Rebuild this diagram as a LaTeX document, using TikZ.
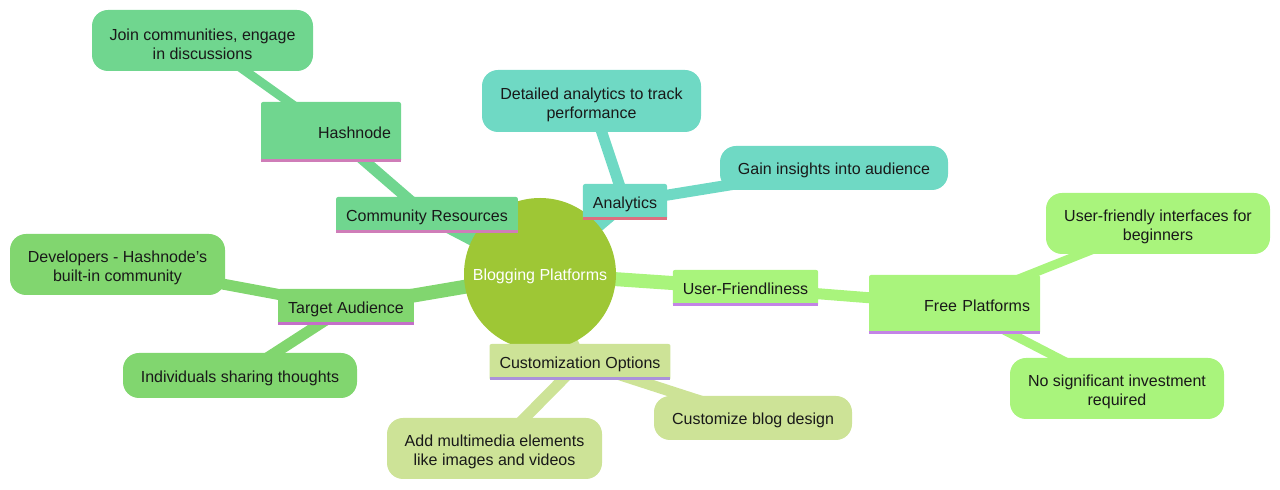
\documentclass[tikz,border=0pt]{standalone}
\usepackage{fontspec}
\setmainfont{Liberation Sans}
\usetikzlibrary{backgrounds}

\definecolor{my_olive}{HTML}{9EC735}
\definecolor{my_green}{HTML}{70D68F}
\definecolor{my_teal}{HTML}{6FD9C4}
\definecolor{my_lime}{HTML}{A9F47C}
\definecolor{my_grass}{HTML}{81D66F}
\definecolor{my_pale}{HTML}{CDE397}
\definecolor{line_pink}{HTML}{CF7DB8}
\definecolor{line_red}{HTML}{DE6F7E}
\definecolor{line_purple}{HTML}{C384E6}
\definecolor{line_magenta}{HTML}{C46FC9}
\definecolor{line_lilac}{HTML}{AA92DA}

\newcommand{\pxu}{0.6pt}
\newcommand{\cale}{\rule{0pt}{11.5pt}}% cale pour descendre le texte sur deux lignes

\tikzset{
  une_ligne/.style={text height=9pt,text depth=1pt},
  racine/.style={circle,fill=my_olive,text=white,minimum size=152*\pxu,inner sep=0pt,outer sep=0pt,une_ligne},
  section/.style={rectangle,rounded corners=2*\pxu,inner xsep=10*\pxu,inner ysep=0pt,outer sep=0pt,minimum height=36*\pxu,text=black!90,une_ligne},
  feuille/.style={rectangle,rounded corners=16*\pxu,inner xsep=10*\pxu,inner ysep=0pt,outer sep=0pt,align=center,text=black!90},
}

\begin{document}
\begin{tikzpicture}[x=0.6pt,y=-0.6pt,font=\fontsize{9.6}{11.4}\selectfont]
\useasboundingbox (0,0) rectangle (1280,490);

\node[racine] (blogging) at (540,274){Blogging Platforms};%le centre

% branche communaute
\node[section,fill=my_green,minimum width=178*\pxu] (community) at (427,215){Community Resources};
\node[section,fill=my_green,minimum height=60*\pxu,text width=120*\pxu,align=right] (hashnode) at (331,132){Hashnode};
\node[feuille,fill=my_green,minimum width=221*\pxu,minimum height=61*\pxu] (join_comm) at (202.5,40.5){\cale Join communities, engage\\in discussions};

% branche analytics
\node[section,fill=my_teal,minimum width=82*\pxu] (analytics) at (625,202){Analytics};
\node[feuille,fill=my_teal,minimum width=219*\pxu,minimum height=62*\pxu] (detailed) at (591.5,101){\cale Detailed analytics to track\\performance};
\node[feuille,une_ligne,fill=my_teal,minimum width=228*\pxu,minimum height=44*\pxu] (insights) at (834,168){Gain insights into audience};

% branche user-friendliness
\node[section,fill=my_lime,minimum width=143*\pxu] (user_friend) at (745.5,288){User-Friendliness};
\node[section,fill=my_lime,minimum height=59*\pxu,text width=151*\pxu,align=right] (free_plat) at (954.5,304.5){Free Platforms};
\node[feuille,fill=my_lime,minimum width=224*\pxu,minimum height=61*\pxu] (friendly_ui) at (1158,223.5){\cale User-friendly interfaces for\\beginners};
\node[feuille,fill=my_lime,minimum width=214*\pxu,minimum height=61*\pxu] (no_invest) at (1117,388.5){\cale No significant investment\\required};

% branche target audience
\node[section,fill=my_grass,minimum width=134*\pxu] (target) at (346,307){Target Audience};
\node[feuille,fill=my_grass,minimum width=215*\pxu,minimum height=61*\pxu] (developers) at (117.5,264.5){\cale Developers - Hashnode's\\built-in community};
\node[feuille,une_ligne,fill=my_grass,minimum width=234*\pxu,minimum height=45*\pxu] (individuals) at (240,375.5){Individuals sharing thoughts};

% branche customization
\node[section,fill=my_pale,minimum width=178*\pxu] (custom) at (580,362){Customization Options};
\node[feuille,fill=my_pale,minimum width=215*\pxu,minimum height=61*\pxu] (multimedia) at (494.5,448.5){\cale Add multimedia elements\\like images and videos};
\node[feuille,une_ligne,fill=my_pale,minimum width=198*\pxu,minimum height=44*\pxu] (blog_design) at (753,418){Customize blog design};

% les soulignements
\foreach \n/\c in {community/line_pink,hashnode/line_pink,analytics/line_red,user_friend/line_purple,free_plat/line_purple,target/line_magenta,custom/line_lilac}
  \draw[\c,line width=3*\pxu] ([yshift=1.5*\pxu]\n.south west) -- ([yshift=1.5*\pxu]\n.south east);

% les liens, derriere
\begin{scope}[on background layer]
\foreach \a/\c in {community/my_green,analytics/my_teal,user_friend/my_lime,target/my_grass,custom/my_pale}
  \draw[\c,line width=14*\pxu] (blogging.center) -- (\a.center);
\foreach \a/\b/\c in {community/hashnode/my_green,analytics/detailed/my_teal,analytics/insights/my_teal,user_friend/free_plat/my_lime,target/developers/my_grass,target/individuals/my_grass,custom/multimedia/my_pale,custom/blog_design/my_pale}
  \draw[\c,line width=11*\pxu] (\a.center) -- (\b.center);
\foreach \a/\b/\c in {hashnode/join_comm/my_green,free_plat/friendly_ui/my_lime,free_plat/no_invest/my_lime}
  \draw[\c,line width=9*\pxu] (\a.center) -- (\b.center);
\end{scope}

\end{tikzpicture}
\end{document}
